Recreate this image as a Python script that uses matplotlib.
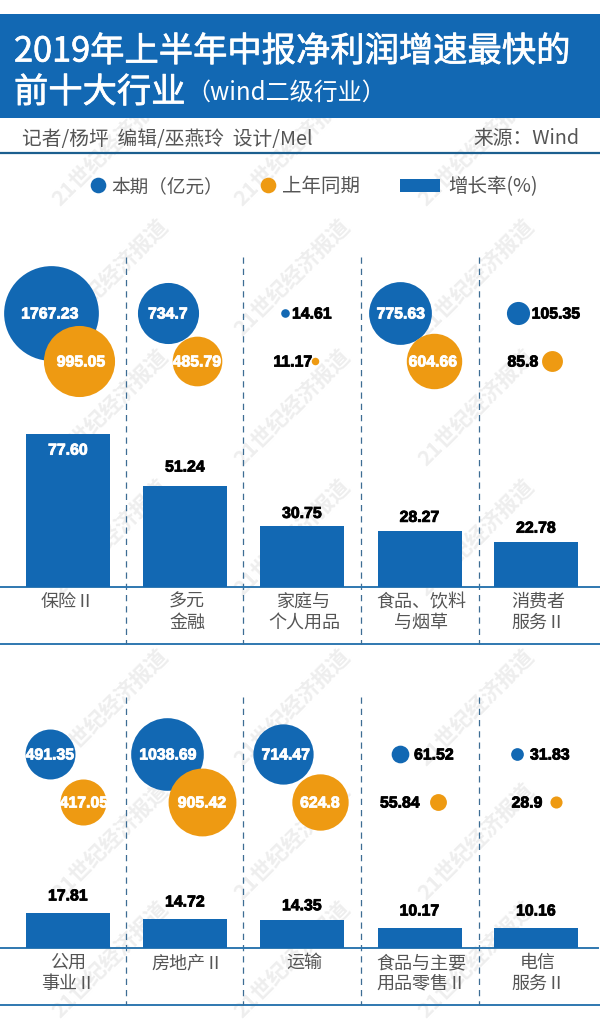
import matplotlib
matplotlib.use('Agg')
from matplotlib import pyplot
from matplotlib import patheffects
from matplotlib.patches import Rectangle

CJK = ['Noto Sans CJK SC', 'DejaVu Sans']
NUM = ['Liberation Sans', 'DejaVu Sans']
pyplot.rcParams['font.family'] = CJK

BLUE = '#1268b3'
ORANGE = '#ee9a12'
LINE = '#2f78b0'
DASH = '#3d6d94'
GREY = '#555555'
NUM_SIZE = 11.4

# data, ranked by growth
categories_top = ['保险Ⅱ', '多元\n金融', '家庭与\n个人用品', '食品、饮料\n与烟草', '消费者\n服务Ⅱ']
categories_bot = ['公用\n事业Ⅱ', '房地产Ⅱ', '运输', '食品与主要\n用品零售Ⅱ', '电信\n服务Ⅱ']
growth_top = [77.60, 51.24, 30.75, 28.27, 22.78]
growth_bot = [17.81, 14.72, 14.35, 10.17, 10.16]
growth_top_txt = ['77.60', '51.24', '30.75', '28.27', '22.78']
growth_bot_txt = ['17.81', '14.72', '14.35', '10.17', '10.16']
current_top = [1767.23, 734.7, 14.61, 775.63, 105.35]
current_bot = [491.35, 1038.69, 714.47, 61.52, 31.83]
previous_top = [995.05, 485.79, 11.17, 604.66, 85.8]
previous_bot = [417.05, 905.42, 624.8, 55.84, 28.9]
current_top_txt = ['1767.23', '734.7', '14.61', '775.63', '105.35']
current_bot_txt = ['491.35', '1038.69', '714.47', '61.52', '31.83']
previous_top_txt = ['995.05', '485.79', '11.17', '604.66', '85.8']
previous_bot_txt = ['417.05', '905.42', '624.8', '55.84', '28.9']

# layout, in pixels of the 600x1036 canvas
bar_centres = [68, 185, 302, 419.5, 536]
cat_centres = [68, 187, 304, 421, 538]
cur_x_top = [51, 168, 285, 400, 518]
prev_x_top = [79, 197, 315, 434, 552]
cur_lab_top = [50, 168, 312, 401, 556]
prev_lab_top = [81, 197, 293, 433, 523]
cur_x_bot = [50, 167, 283, 400, 517]
prev_x_bot = [83, 202, 320, 438, 556]
cur_lab_bot = [50, 168, 286, 434, 550]
prev_lab_bot = [84, 202, 320, 400, 527]
gap_top = [16, 19, 13, 14, 14]
gap_bot = [17, 17, 14, 17, 17]
wm_cols = [110, 292, 476]
wm_rows = [148, 278, 408, 538, 708, 842, 960]
PX_PER_UNIT = 1.97
R_SCALE = 1.127   # circle radius in px = R_SCALE * sqrt(value)


def radius_to_s(value):
    # scatter wants points^2 of the diameter; area follows the value
    d_px = 2.0 * R_SCALE * value ** 0.5
    return (d_px * 72.0 / 100.0) ** 2


def num(ax, x, y, s, color='black'):
    t = ax.text(x, y, s, ha='center', va='center', color=color, family=NUM,
                fontsize=NUM_SIZE, fontweight='bold', zorder=6)
    t.set_path_effects([patheffects.withStroke(linewidth=0.6, foreground=color)])


def bubbles(ax, cur, prev, cur_x, prev_x, cur_y, prev_y, cur_txt, prev_txt, cur_lab, prev_lab):
    for i in range(5):
        ax.scatter(cur_x[i], cur_y, s=radius_to_s(cur[i]), color=BLUE, lw=0, zorder=4)
        ax.scatter(prev_x[i], prev_y, s=radius_to_s(prev[i]), color=ORANGE, lw=0, zorder=5)
        num(ax, cur_lab[i], cur_y + 1, cur_txt[i], 'white' if cur[i] > 200 else 'black')
        num(ax, prev_lab[i], prev_y + 1, prev_txt[i], 'white' if prev[i] > 200 else 'black')


def bars(fig, baseline, values, labels, gaps):
    # axes spans the whole width, with 180 px of height above the baseline
    ax = fig.add_axes([0, 1 - baseline / 1036.0, 1, 180 / 1036.0], zorder=2)
    ax.patch.set_alpha(0)
    ax.set_xlim(0, 600)
    ax.set_ylim(0, 180 / PX_PER_UNIT)
    ax.axis('off')
    ax.bar(bar_centres, values, width=84, color=BLUE)
    for i in range(5):
        inside = values[i] > 70
        y = values[i] + (-gaps[i] if inside else gaps[i]) / PX_PER_UNIT
        num(ax, bar_centres[i], y, labels[i], 'white' if inside else 'black')
    return ax


def main():
    fig = pyplot.figure(figsize=(6.0, 10.36), dpi=100)
    ax = fig.add_axes([0, 0, 1, 1], zorder=1)
    ax.set_xlim(0, 600)
    ax.set_ylim(1036, 0)
    ax.axis('off')

    # watermark
    for wx in wm_cols:
        for wy in wm_rows:
            ax.text(wx, wy, '21世纪经济报道', rotation=45, ha='center', va='center',
                    fontsize=15.5, color='#eeeeee', fontweight='bold', zorder=0,
                    rotation_mode='anchor')

    # header band
    heavy = [patheffects.withStroke(linewidth=0.5, foreground='white')]
    ax.add_patch(Rectangle((0, 14), 600, 104, color=BLUE, lw=0, zorder=1))
    ax.text(14, 52, '2019年上半年中报净利润增速最快的', color='white', fontsize=24.7,
            va='center', ha='left', path_effects=heavy)
    ax.text(14, 93, '前十大行业', color='white', fontsize=24.7, va='center', ha='left',
            path_effects=heavy)
    ax.text(186, 93, '（wind二级行业）', color='white', fontsize=17.3, va='center', ha='left')

    ax.text(22, 139, '记者/杨坪  编辑/巫燕玲  设计/Mel', color=GREY, fontsize=14.2, va='center')
    ax.text(579, 139, '来源：Wind', color=GREY, fontsize=14.2, va='center', ha='right')
    ax.plot([0, 600], [153, 153], color='#1c5f8f', lw=1.6)

    # legend
    ax.scatter(98, 185, s=radius_to_s(48), color=BLUE, lw=0)
    ax.text(111, 187, '本期（亿元）', color=GREY, fontsize=13.4, va='center')
    ax.scatter(268, 185, s=radius_to_s(48), color=ORANGE, lw=0)
    ax.text(282, 187, '上年同期', color=GREY, fontsize=14, va='center')
    ax.add_patch(Rectangle((400, 179), 40, 13, color=BLUE, lw=0))
    ax.text(448, 187, '增长率(%)', color=GREY, fontsize=14, va='center')

    # rules and dashed separators
    for y in [644, 1005]:
        ax.plot([0, 600], [y, y], color=LINE, lw=1.4, zorder=2)
    for x in [126, 243, 361, 479]:
        ax.plot([x, x], [257, 644], color=DASH, lw=0.9, ls=(0, (5, 4)), zorder=2)
        ax.plot([x, x], [697, 1005], color=DASH, lw=0.9, ls=(0, (5, 4)), zorder=2)
    ax.plot([0, 600], [587, 587], color=LINE, lw=1.4, zorder=2)
    ax.plot([0, 598], [948, 948], color=LINE, lw=1.4, zorder=2)

    bubbles(ax, current_top, previous_top, cur_x_top, prev_x_top, 313, 361,
            current_top_txt, previous_top_txt, cur_lab_top, prev_lab_top)
    bubbles(ax, current_bot, previous_bot, cur_x_bot, prev_x_bot, 754, 802,
            current_bot_txt, previous_bot_txt, cur_lab_bot, prev_lab_bot)

    bars(fig, 587, growth_top, growth_top_txt, gap_top)
    bars(fig, 948, growth_bot, growth_bot_txt, gap_bot)

    # category labels
    for i in range(5):
        ax.text(cat_centres[i], 593, categories_top[i], ha='center', va='top', color=GREY,
                fontsize=13, linespacing=1.2)
        ax.text(cat_centres[i], 954, categories_bot[i], ha='center', va='top', color=GREY,
                fontsize=13, linespacing=1.2)

    fig.savefig('out.png', dpi=100)


if __name__ == '__main__':
    main()
